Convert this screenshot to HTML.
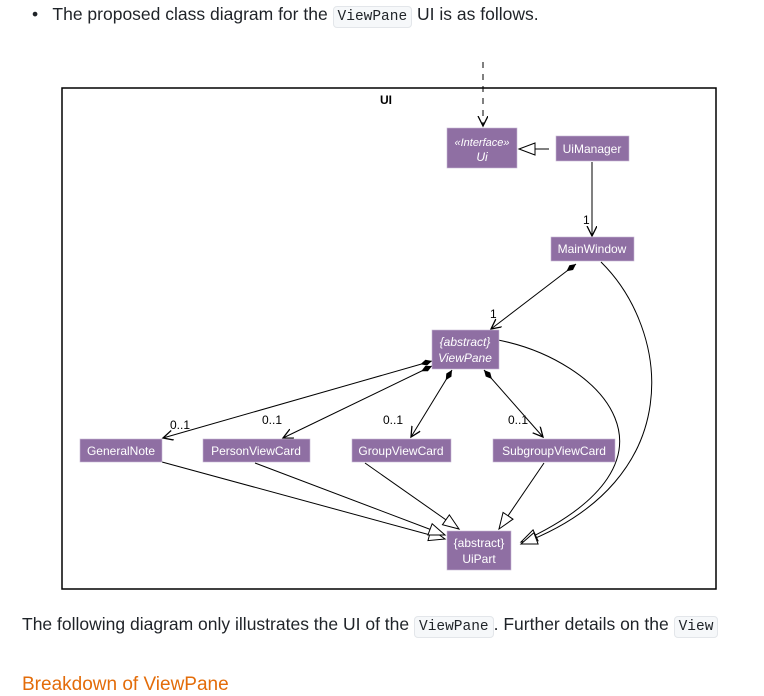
<!DOCTYPE html>
<html><head><style>
body{margin:0;width:764px;height:681px;background:#fff;font-family:"Liberation Sans",sans-serif;overflow:hidden;position:relative}
.t{position:absolute;font-size:17.5px;color:#1f2328;white-space:nowrap}
code{font-family:"Liberation Mono",monospace;font-size:14.5px;background:#f6f8fa;border:1px solid #e3e6ea;border-radius:4px;padding:2px 4px}
</style></head><body>
<div class="t" style="left:32px;top:4px">•&nbsp;&nbsp; The proposed class diagram for the <code>ViewPane</code> UI is as follows.</div>
<svg style="position:absolute;left:0;top:0" width="764" height="681" font-family="Liberation Sans,sans-serif">
<defs>
<marker id="a" markerWidth="12" markerHeight="12" refX="10" refY="5" orient="auto" markerUnits="userSpaceOnUse"><path d="M0,0 L10,5 L0,10" fill="none" stroke="#000" stroke-width="1.3"/></marker>
<marker id="tri" markerWidth="20" markerHeight="16" refX="17" refY="7" orient="auto" markerUnits="userSpaceOnUse"><path d="M1,1 L17,7 L1,13 Z" fill="#fff" stroke="#000" stroke-width="1"/></marker>
<marker id="dia" markerWidth="16" markerHeight="10" refX="1" refY="4" orient="auto" markerUnits="userSpaceOnUse"><path d="M1,4 L7,1 L13,4 L7,7 Z" fill="#000"/></marker>
</defs>
<rect x="62" y="88" width="654" height="501" fill="none" stroke="#000" stroke-width="1.5"/>
<text x="380" y="104" font-size="12" font-weight="bold">UI</text>
<line x1="483" y1="62" x2="483" y2="126" stroke="#000" stroke-dasharray="6,6" marker-end="url(#a)"/>
<line x1="549" y1="149" x2="519" y2="149" stroke="#000" marker-end="url(#tri)"/>
<line x1="592" y1="162" x2="592" y2="236" stroke="#000" marker-end="url(#a)"/>
<text x="583" y="224" font-size="12">1</text>
<line x1="576" y1="264" x2="491" y2="329" stroke="#000" marker-start="url(#dia)" marker-end="url(#a)"/>
<text x="490" y="318" font-size="12">1</text>
<line x1="432" y1="361" x2="163" y2="438" stroke="#000" marker-start="url(#dia)" marker-end="url(#a)"/>
<line x1="432" y1="366" x2="283" y2="438" stroke="#000" marker-start="url(#dia)" marker-end="url(#a)"/>
<line x1="452" y1="370" x2="411" y2="437" stroke="#000" marker-start="url(#dia)" marker-end="url(#a)"/>
<line x1="484" y1="370" x2="543" y2="437" stroke="#000" marker-start="url(#dia)" marker-end="url(#a)"/>
<g font-size="12"><text x="170" y="429">0..1</text><text x="262" y="424">0..1</text><text x="383" y="424">0..1</text><text x="508" y="424">0..1</text></g>
<path d="M498,340 C600,360 700,460 521,542" fill="none" stroke="#000" marker-end="url(#tri)"/>
<path d="M601,262 C670,330 690,480 521,544" fill="none" stroke="#000" marker-end="url(#tri)"/>
<line x1="162" y1="462" x2="445" y2="539" stroke="#000" marker-end="url(#tri)"/>
<line x1="255" y1="463" x2="445" y2="535" stroke="#000" marker-end="url(#tri)"/>
<line x1="365" y1="463" x2="459" y2="529" stroke="#000" marker-end="url(#tri)"/>
<line x1="482" y1="463" x2="437" y2="529" stroke="#000" marker-end="url(#tri)" transform="translate(62,0)"/>
<g fill="#8f6fa3" stroke="#c9b8d6" stroke-width="0.6">
<rect x="447" y="128" width="70" height="40"/>
<rect x="556" y="136" width="73" height="25"/>
<rect x="551" y="237" width="83" height="24"/>
<rect x="432" y="330" width="67" height="39"/>
<rect x="80" y="439" width="82" height="23"/>
<rect x="203" y="439" width="107" height="23"/>
<rect x="352" y="439" width="99" height="23"/>
<rect x="493" y="439" width="122" height="23"/>
<rect x="447" y="531" width="64" height="39"/>
</g>
<g fill="#fff" font-size="12" text-anchor="middle">
<text x="482" y="146" font-style="italic" font-size="11">«Interface»</text>
<text x="482" y="161" font-style="italic">Ui</text>
<text x="592" y="153">UiManager</text>
<text x="592" y="253">MainWindow</text>
<text x="465" y="346" font-style="italic">{abstract}</text>
<text x="465" y="362" font-style="italic">ViewPane</text>
<text x="121" y="455">GeneralNote</text>
<text x="256" y="455">PersonViewCard</text>
<text x="401" y="455">GroupViewCard</text>
<text x="554" y="455">SubgroupViewCard</text>
<text x="479" y="547">{abstract}</text>
<text x="479" y="563">UiPart</text>
</g>
</svg>
<div class="t" style="left:22px;top:614px">The following diagram only illustrates the UI of the <code>ViewPane</code>. Further details on the <code>View</code></div>
<div class="t" style="left:22px;top:674px;color:#e36c09;font-size:19px">Breakdown of ViewPane</div>
</body></html>
